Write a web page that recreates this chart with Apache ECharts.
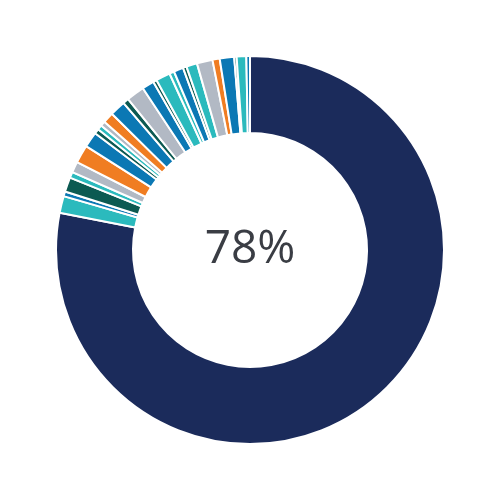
<!DOCTYPE html><html><head><script src="https://cdn.jsdelivr.net/npm/echarts@6/dist/echarts.min.js"></script></head><body style="margin:0"><div id="c" style="width:500px;height:500px"></div><script>
const C={navy:'#1b2b5b',teal:'#2bbabd',blue:'#0b78b4',green:'#0c5a52',gray:'#b2b9c4',orange:'#f07d22'};
const sliceColors=['navy','teal','blue','green','teal','gray','orange','blue','green','teal','gray','orange','blue','green','gray','blue','green','teal','teal','blue','green','teal','gray','orange','blue','green','teal','blue'];
const sliceValues=[78,1.4,0.4,1.2,0.5,0.9,1.5,1.3,0.4,0.4,0.4,0.9,1.3,0.5,1.5,1.0,0.3,1.2,0.4,0.8,0.3,0.9,1.3,0.6,1.2,0.2,0.8,0.3];
const centerLabel='78%';
const ch=echarts.init(document.getElementById('c'));
ch.setOption({animation:false,
title:{text:centerLabel,left:'center',top:'middle',textStyle:{fontSize:46,fontWeight:'normal',color:'#3a3d44',fontFamily:'Open Sans'}},
series:[{type:'pie',radius:[117,194],center:[250,250],startAngle:90,clockwise:true,label:{show:false},
itemStyle:{borderColor:'#fff',borderWidth:2},
data:sliceValues.map((v,i)=>({value:v,itemStyle:{color:C[sliceColors[i]]}}))}]});
</script></body></html>
